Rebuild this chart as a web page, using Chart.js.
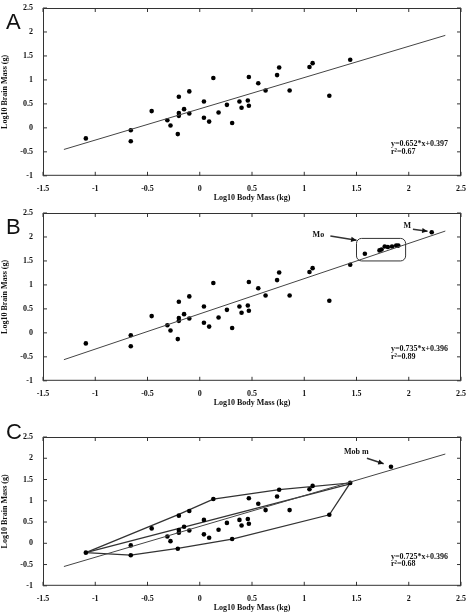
<!DOCTYPE html>
<html><head>
<script src="https://cdn.jsdelivr.net/npm/chart.js@4"></script>
<style>
body{margin:0;background:#fff;width:474px;height:615px;position:relative;overflow:hidden}
.p{position:absolute;left:0;width:474px}
</style></head><body>
<div class="p" style="top:0;height:205px"><canvas id="a"></canvas></div>
<div class="p" style="top:205px;height:205px"><canvas id="b"></canvas></div>
<div class="p" style="top:410px;height:205px"><canvas id="c"></canvas></div>
<script>
// shared species points (log10 body mass, log10 brain mass)
const bodyX = [-1.09,-0.66,-0.66,-0.46,-0.31,-0.28,-0.21,-0.2,-0.2,-0.2,-0.15,-0.1,-0.1,0.04,0.04,0.09,0.13,0.18,0.26,0.31,0.38,0.4,0.46,0.47,0.47,0.56,0.63,0.74,0.76,0.86,1.05,1.08,1.24,1.44];
const brainY = [-0.22,-0.05,-0.28,0.35,0.16,0.05,-0.13,0.65,0.25,0.31,0.39,0.76,0.3,0.55,0.21,0.13,1.04,0.32,0.48,0.1,0.55,0.42,0.57,0.46,1.06,0.93,0.78,1.1,1.26,0.78,1.27,1.35,0.67,1.42];
// extra points in B (Mo cluster + M)
const extraBX = [1.58,1.72,1.74,1.77,1.8,1.84,1.88,1.9,2.22];
const extraBY = [1.65,1.72,1.74,1.8,1.79,1.8,1.82,1.82,2.1];
// Mob m in C
const mobX = [1.83], mobY = [1.8];
// hull polygon in C
const hullX = [-1.09,-0.2,0.13,0.76,1.44,1.24,0.31,-0.21,-0.66,-1.09];
const hullY = [-0.22,0.68,1.04,1.26,1.42,0.67,0.1,-0.12,-0.28,-0.22];
const innerX = [-1.09,1.44], innerY = [-0.22,1.4];
const fits = [[0.652,0.397],[0.735,0.396],[0.725,0.396]];
const eqs = [["y=0.652*x+0.397","r²=0.67"],["y=0.735*x+0.396","r²=0.89"],["y=0.725*x+0.396","r²=0.68"]];
const xTicks = [-1.5,-1,-0.5,0,0.5,1,1.5,2,2.5];
const yTicks = [-1,-0.5,0,0.5,1,1.5,2,2.5];
const fitRange = [-1.3,2.35];

const pts = (xs,ys)=>xs.map((x,i)=>({x,y:ys[i]}));
const F = "'Liberation Serif', serif";

const frame = {
  id:'frame',
  afterDraw(ch,args,o){
    const c=ch.ctx,a=ch.chartArea,xs=ch.scales.x,ys=ch.scales.y;
    c.save();c.setLineDash([]);c.strokeStyle='#333';c.lineWidth=1;
    c.beginPath();c.rect(a.left+0.5,a.top+0.5,a.right-a.left-1,a.bottom-a.top-1);c.stroke();
    c.beginPath();
    xTicks.forEach(t=>{const p=xs.getPixelForValue(t);c.moveTo(p,a.bottom);c.lineTo(p,a.bottom-4);c.moveTo(p,a.top);c.lineTo(p,a.top+4);});
    yTicks.forEach(t=>{const p=ys.getPixelForValue(t);c.moveTo(a.left,p);c.lineTo(a.left+4,p);c.moveTo(a.right,p);c.lineTo(a.right-4,p);});
    c.stroke();
    c.fillStyle='#111';c.font='22px Arial';c.textBaseline='top';c.fillText(o.letter,6,12);
    c.font='bold 8px '+F;c.textBaseline='alphabetic';
    c.fillText(o.eq[0],xs.getPixelForValue(1.83),ys.getPixelForValue(-0.38));
    c.fillText(o.eq[1],xs.getPixelForValue(1.83),ys.getPixelForValue(-0.54));
    const arrow=(x0,y0,x1,y1)=>{
      const p0=[xs.getPixelForValue(x0),ys.getPixelForValue(y0)],p1=[xs.getPixelForValue(x1),ys.getPixelForValue(y1)];
      c.lineWidth=1.5;c.beginPath();c.moveTo(p0[0],p0[1]);c.lineTo(p1[0],p1[1]);c.stroke();
      const an=Math.atan2(p1[1]-p0[1],p1[0]-p0[0]);
      c.beginPath();c.moveTo(p1[0],p1[1]);c.lineTo(p1[0]-6*Math.cos(an-0.45),p1[1]-6*Math.sin(an-0.45));
      c.lineTo(p1[0]-6*Math.cos(an+0.45),p1[1]-6*Math.sin(an+0.45));c.closePath();c.fill();
    };
    if(o.letter==='B'){
      c.fillText('Mo',xs.getPixelForValue(1.08),ys.getPixelForValue(2.0));
      arrow(1.25,2.02,1.5,1.93);
      c.fillText('M',xs.getPixelForValue(1.95),ys.getPixelForValue(2.18));
      arrow(2.04,2.16,2.18,2.12);
      const l=xs.getPixelForValue(1.5),r=xs.getPixelForValue(1.97),t=ys.getPixelForValue(1.97),b=ys.getPixelForValue(1.5);
      c.lineWidth=1;c.beginPath();c.roundRect(l,t,r-l,b-t,5);c.stroke();
    }
    if(o.letter==='C'){
      c.fillText('Mob m',xs.getPixelForValue(1.38),ys.getPixelForValue(2.1));
      arrow(1.6,2.0,1.76,1.87);
    }
    c.restore();
  }
};

const tickFont={family:F,size:8,weight:'bold'};
function make(id,letter,i,extra){
  const ds=[
    {type:'line',data:pts(fitRange,fitRange.map(x=>fits[i][0]*x+fits[i][1])),borderColor:'#444',borderWidth:1,pointRadius:0},
    {data:pts(bodyX,brainY),backgroundColor:'#000',borderWidth:0,pointRadius:2.3}
  ].concat(extra);
  new Chart(document.getElementById(id),{
    type:'scatter',
    data:{datasets:ds},
    options:{
      responsive:true,maintainAspectRatio:false,animation:false,
      layout:{padding:{top:i===2?27:8,right:13,bottom:0}},
      plugins:{legend:{display:false},tooltip:{enabled:false},frame:{letter,eq:eqs[i]}},
      scales:{
        x:{min:-1.5,max:2.5,grid:{display:false},border:{display:false},
           afterBuildTicks:s=>{s.ticks=xTicks.map(v=>({value:v}));},
           ticks:{color:'#111',font:tickFont,padding:0,maxRotation:0,callback:v=>String(v)},
           title:{display:true,text:'Log10 Body Mass (kg)',color:'#111',font:tickFont,padding:{top:0,bottom:2}}},
        y:{min:-1,max:2.5,grid:{display:false},border:{display:false},
           afterBuildTicks:s=>{s.ticks=yTicks.map(v=>({value:v}));},
           afterFit:s=>{s.width=43;},
           ticks:{color:'#111',font:tickFont,padding:2,callback:v=>String(v)},
           title:{display:true,text:'Log10 Brain Mass (g)',color:'#111',font:tickFont,padding:0}}
      }
    },
    plugins:[frame]
  });
}
make('a','A',0,[]);
make('b','B',1,[{data:pts(extraBX,extraBY),backgroundColor:'#000',borderWidth:0,pointRadius:2.3}]);
make('c','C',2,[
  {data:pts(mobX,mobY),backgroundColor:'#000',borderWidth:0,pointRadius:2.3},
  {type:'line',data:pts(hullX,hullY),borderColor:'#333',borderWidth:1.3,pointRadius:0,tension:0},
  {type:'line',data:pts(innerX,innerY),borderColor:'#333',borderWidth:1.3,pointRadius:0}
]);
</script>
</body></html>
